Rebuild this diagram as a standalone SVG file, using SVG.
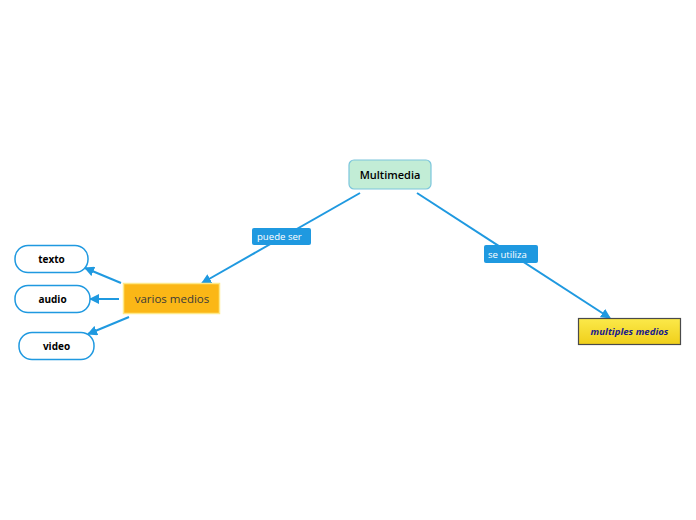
<svg xmlns="http://www.w3.org/2000/svg" width="696" height="520" viewBox="0 0 696 520">
<style>
.conn{stroke:#1f99e0;stroke-width:2;fill:none}
.lbl rect{fill:#1f99e0}
.lbl text{fill:#ffffff;font-family:"Open Sans",sans-serif;font-size:9.6px}
.leaf rect{fill:#ffffff;stroke:#1f99e0;stroke-width:1.5}
.leaf text{font-family:"Open Sans",sans-serif;font-size:10px;font-weight:bold;fill:#000}
</style>
<defs>
<marker id="ah" viewBox="0 0 10 10" refX="9" refY="5" markerWidth="5" markerHeight="5" orient="auto" markerUnits="strokeWidth">
<path d="M0,0 L10,5 L0,10 Z" fill="#1f99e0"/>
</marker>
<linearGradient id="yg" x1="0" y1="0" x2="0" y2="1">
<stop offset="0" stop-color="#fbe94a"/>
<stop offset="1" stop-color="#f0cf1a"/>
</linearGradient>
</defs>
<rect width="696" height="520" fill="#ffffff"/>
<g id="connectors">
<line class="conn" x1="360" y1="193" x2="202" y2="283" marker-end="url(#ah)"/>
<line class="conn" x1="417" y1="193" x2="610" y2="318" marker-end="url(#ah)"/>
<line class="conn" x1="121" y1="283" x2="85" y2="268" marker-end="url(#ah)"/>
<line class="conn" x1="119" y1="299" x2="90" y2="299" marker-end="url(#ah)"/>
<line class="conn" x1="129" y1="317" x2="88" y2="334" marker-end="url(#ah)"/>
</g>
<g id="label-puede" class="lbl">
<rect x="252" y="228" width="59" height="17" rx="2"/>
<text x="257" y="240">puede ser</text>
</g>
<g id="label-utiliza" class="lbl">
<rect x="484" y="245" width="54" height="18" rx="2"/>
<text x="488" y="257.5">se utiliza</text>
</g>
<g id="multimedia">
<rect x="349" y="160" width="82" height="29" rx="5" fill="#c2edd6" stroke="#7cc6dc" stroke-width="1.2"/>
<text x="390" y="179" text-anchor="middle" font-family="'Open Sans',sans-serif" font-size="11px" font-weight="600" fill="#000">Multimedia</text>
</g>
<g id="multiples">
<rect x="578.5" y="318.5" width="102" height="26" fill="url(#yg)" stroke="#4a4a4a" stroke-width="1.2"/>
<text x="629.5" y="335" text-anchor="middle" font-family="'Open Sans',sans-serif" font-size="9.6px" font-weight="bold" font-style="italic" fill="#1a1a8c">multiples medios</text>
</g>
<g id="varios">
<rect x="123.5" y="283.5" width="96" height="30" fill="#fbb716" stroke="#fde98a" stroke-width="1.5"/>
<text x="172" y="302.5" text-anchor="middle" font-family="'Open Sans',sans-serif" font-size="11.5px" font-weight="500" fill="#3a3a3a">varios medios</text>
</g>
<g id="texto" class="leaf">
<rect x="15" y="245.5" width="73" height="27" rx="13"/>
<text x="51.5" y="262.5" text-anchor="middle">texto</text>
</g>
<g id="audio" class="leaf">
<rect x="15" y="285.5" width="75" height="27" rx="13"/>
<text x="52.5" y="302.5" text-anchor="middle">audio</text>
</g>
<g id="video" class="leaf">
<rect x="19" y="332.5" width="75" height="27" rx="13"/>
<text x="56.5" y="349.5" text-anchor="middle">video</text>
</g>
</svg>
